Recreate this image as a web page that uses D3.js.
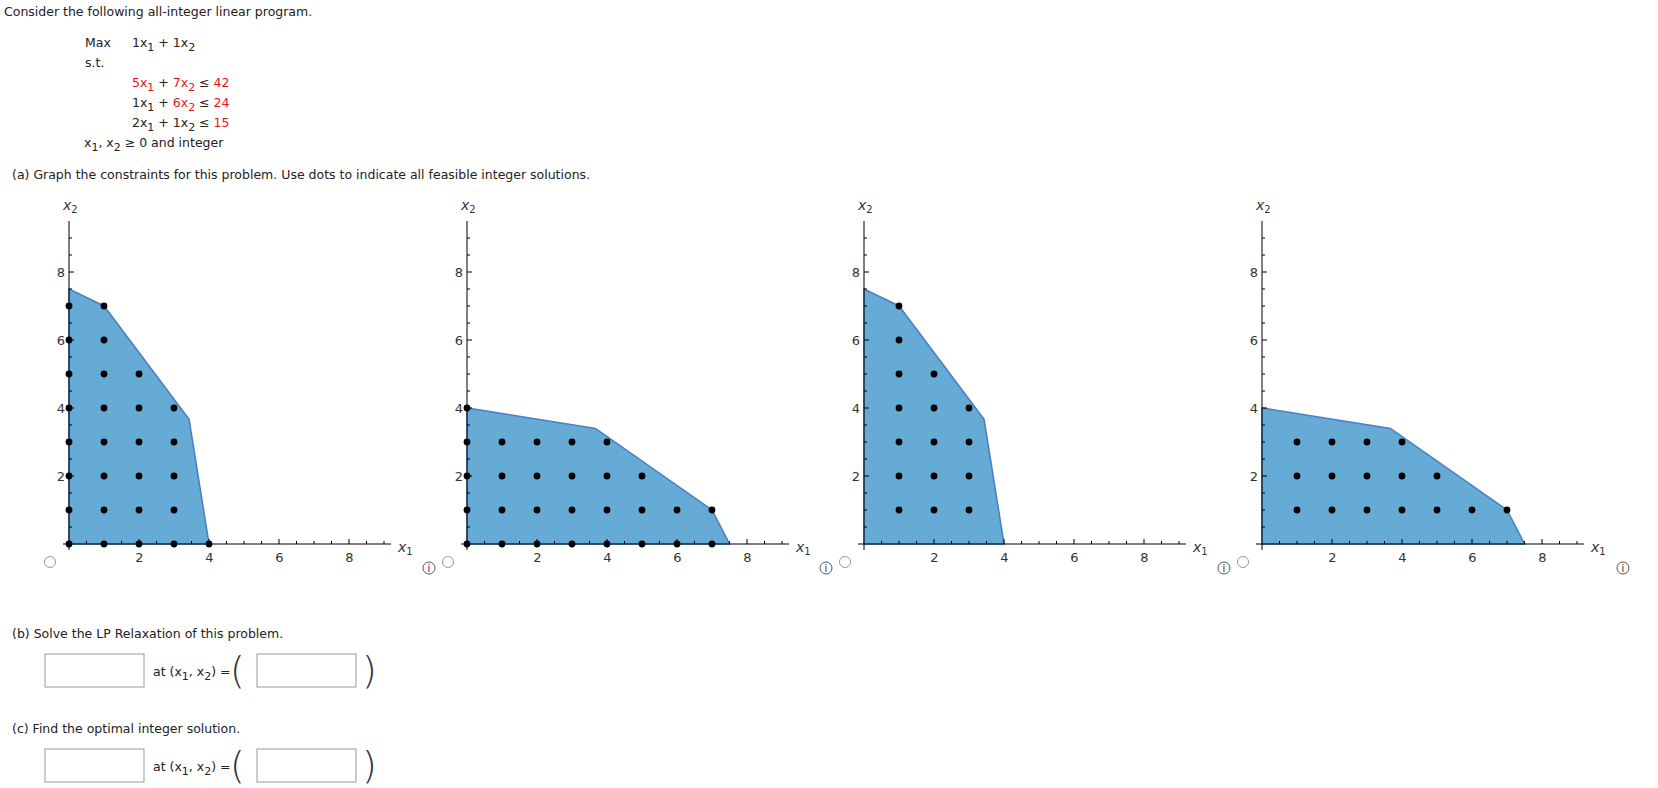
<!DOCTYPE html>
<html><head><meta charset="utf-8">
<script src="https://cdn.jsdelivr.net/npm/d3@7"></script>
<style>
body{margin:0;background:#fff;font-family:"DejaVu Sans",Verdana,sans-serif;font-size:12.5px;color:#222}
svg text{font-family:"DejaVu Sans",sans-serif}
</style></head><body>
<svg id="page" width="1658" height="788"></svg>
<script>
// region vertices and integer dots for the 4 answer options
const regionA = [[0,0],[4,0],[3.43,3.67],[1,7],[0,7.5]]
const regionB = [[0,0],[7.5,0],[7,1],[3.67,3.4],[0,4]]
const dotsA = [[0,0,7],[1,0,7],[2,0,5],[3,0,4],[4,0,0]]   // [x, yFrom, yTo]
const dotsB = [[0,0,4],[1,0,3],[2,0,3],[3,0,3],[4,0,3],[5,0,2],[6,0,1],[7,0,1]]
const dotsC = [[1,1,7],[2,1,5],[3,1,4]]
const dotsD = [[1,1,3],[2,1,3],[3,1,3],[4,1,3],[5,1,2],[6,1,1],[7,1,1]]
const options = [
  {region: regionA, dots: dotsA},
  {region: regionB, dots: dotsB},
  {region: regionA, dots: dotsC},
  {region: regionB, dots: dotsD},
]
const xTicks = [2,4,6,8]
const yTicks = [2,4,6,8]

const svg = d3.select("#page")

// header text
function line(x, y, parts, g = svg) {
  const t = g.append("text").attr("x", x).attr("y", y).attr("font-size", 12.5).attr("fill", "#222")
  parts.forEach(p => {
    const s = t.append("tspan").text(p[0]).attr("fill", p[1] || "#222")
    if (p[2]) s.attr("baseline-shift", "-4").attr("font-size", 11)
  })
  return t
}
line(4, 16, [["Consider the following all-integer linear program."]])
line(85, 47, [["Max"]])
line(132, 47, [["1x"],["1",null,1],["  +  1x"],["2",null,1]])
line(85, 67, [["s.t."]])
const R = "#e8141c"
line(132, 87, [["5x",R],["1",R,1],["  +  "],["7x",R],["2",R,1],[" ≤ "],[" 42",R]])
line(132, 107, [["1x"],["1",null,1],["  +  "],["6x",R],["2",R,1],[" ≤ "],[" 24",R]])
line(132, 127, [["2x"],["1",null,1],["  +  1x"],["2",null,1],[" ≤ "],[" 15",R]])
line(84, 147, [["x"],["1",null,1],[", x"],["2",null,1],[" ≥ 0 and integer"]])
line(12, 179, [["(a)   Graph the constraints for this problem. Use dots to indicate all feasible integer solutions."]])

// charts
const origins = [69, 467, 864, 1262]
const y0 = 544
options.forEach((opt, i) => {
  const ox = origins[i]
  const x = d3.scaleLinear().domain([0, 9.2]).range([ox, ox + 322])
  const y = d3.scaleLinear().domain([0, 9.5]).range([y0, y0 - 323])
  const g = svg.append("g")

  g.append("path")
    .attr("d", d3.line().x(d => x(d[0])).y(d => y(d[1]))(opt.region) + "Z")
    .attr("fill", "#66aad6").attr("stroke", "#4a80c0").attr("stroke-width", 1.6)

  const xa = g.append("g").attr("transform", `translate(0,${y0})`)
    .call(d3.axisBottom(x).tickValues(xTicks).tickSize(0).tickPadding(9).tickFormat(d3.format("d")))
  xa.select(".domain").remove()
  xa.selectAll("text").attr("font-family", "'DejaVu Serif',serif").attr("font-size", 13).attr("fill", "#333")
  const ya = g.append("g").attr("transform", `translate(${ox},0)`)
    .call(d3.axisLeft(y).tickValues(yTicks).tickSize(0).tickPadding(4).tickFormat(d3.format("d")))
  ya.select(".domain").remove()
  ya.selectAll("text").attr("font-family", "'DejaVu Serif',serif").attr("font-size", 13).attr("fill", "#333")

  g.append("line").attr("x1", ox - 6).attr("x2", x(9.2)).attr("y1", y0).attr("y2", y0).attr("stroke", "#000")
  g.append("line").attr("x1", ox).attr("x2", ox).attr("y1", y0 + 6).attr("y2", y(9.5)).attr("stroke", "#000")
  d3.range(0.5, 9.1, 0.5).forEach(v => {
    const major = v % 2 === 0
    g.append("line").attr("x1", x(v)).attr("x2", x(v)).attr("y1", y0).attr("y2", y0 - (major ? 5 : 3)).attr("stroke", "#000")
  })
  d3.range(0.5, 9.4, 0.5).forEach(v => {
    const major = v % 2 === 0
    g.append("line").attr("x1", ox).attr("x2", ox + (major ? 5 : 3)).attr("y1", y(v)).attr("y2", y(v)).attr("stroke", "#000")
  })

  const pts = []
  opt.dots.forEach(([cx, a, b]) => d3.range(a, b + 1).forEach(v => pts.push([cx, v])))
  g.selectAll("circle.dot").data(pts).join("circle").attr("class", "dot")
    .attr("cx", d => x(d[0])).attr("cy", d => y(d[1])).attr("r", 3.4).attr("fill", "#000")

  const lbl = (tx, ty, sub) => {
    const t = g.append("text").attr("x", tx).attr("y", ty).attr("font-family", "'DejaVu Serif',serif")
      .attr("font-style", "italic").attr("font-size", 14).attr("fill", "#333")
    t.append("tspan").text("x")
    t.append("tspan").text(sub).attr("font-size", 10).attr("font-style", "normal").attr("baseline-shift", "-3")
  }
  lbl(ox - 6, 210, "2")
  lbl(ox + 329, 552, "1")

  // radio button
  g.append("circle").attr("cx", ox - 19).attr("cy", 562).attr("r", 5.5).attr("fill", "#fff").attr("stroke", "#999")
  // info icon
  const ix = i < 3 ? origins[i + 1] - 38 : ox + 361
  g.append("circle").attr("cx", ix).attr("cy", 568).attr("r", 6).attr("fill", "#fff").attr("stroke", "#555")
  g.append("text").attr("x", ix).attr("y", 572).attr("text-anchor", "middle").attr("font-family", "'DejaVu Serif',serif")
    .attr("font-size", 10).attr("fill", "#333").text("i")
})

// parts b and c
function answerRow(yText, yBox, label) {
  line(12, yText, [[label]])
  svg.append("rect").attr("x", 45).attr("y", yBox).attr("width", 99).attr("height", 33).attr("fill", "#fff").attr("stroke", "#999")
  line(153, yBox + 22, [["at (x"],["1",null,1],[", x"],["2",null,1],[") ="]])
  svg.append("text").attr("x", 230).attr("y", yBox + 29).attr("font-size", 38).attr("font-weight", 100).attr("fill", "#333").text("(")
  svg.append("rect").attr("x", 257).attr("y", yBox).attr("width", 99).attr("height", 33).attr("fill", "#fff").attr("stroke", "#999")
  svg.append("text").attr("x", 362).attr("y", yBox + 29).attr("font-size", 38).attr("font-weight", 100).attr("fill", "#333").text(")")
}
answerRow(638, 654, "(b)   Solve the LP Relaxation of this problem.")
answerRow(733, 749, "(c)   Find the optimal integer solution.")
</script>
</body></html>
